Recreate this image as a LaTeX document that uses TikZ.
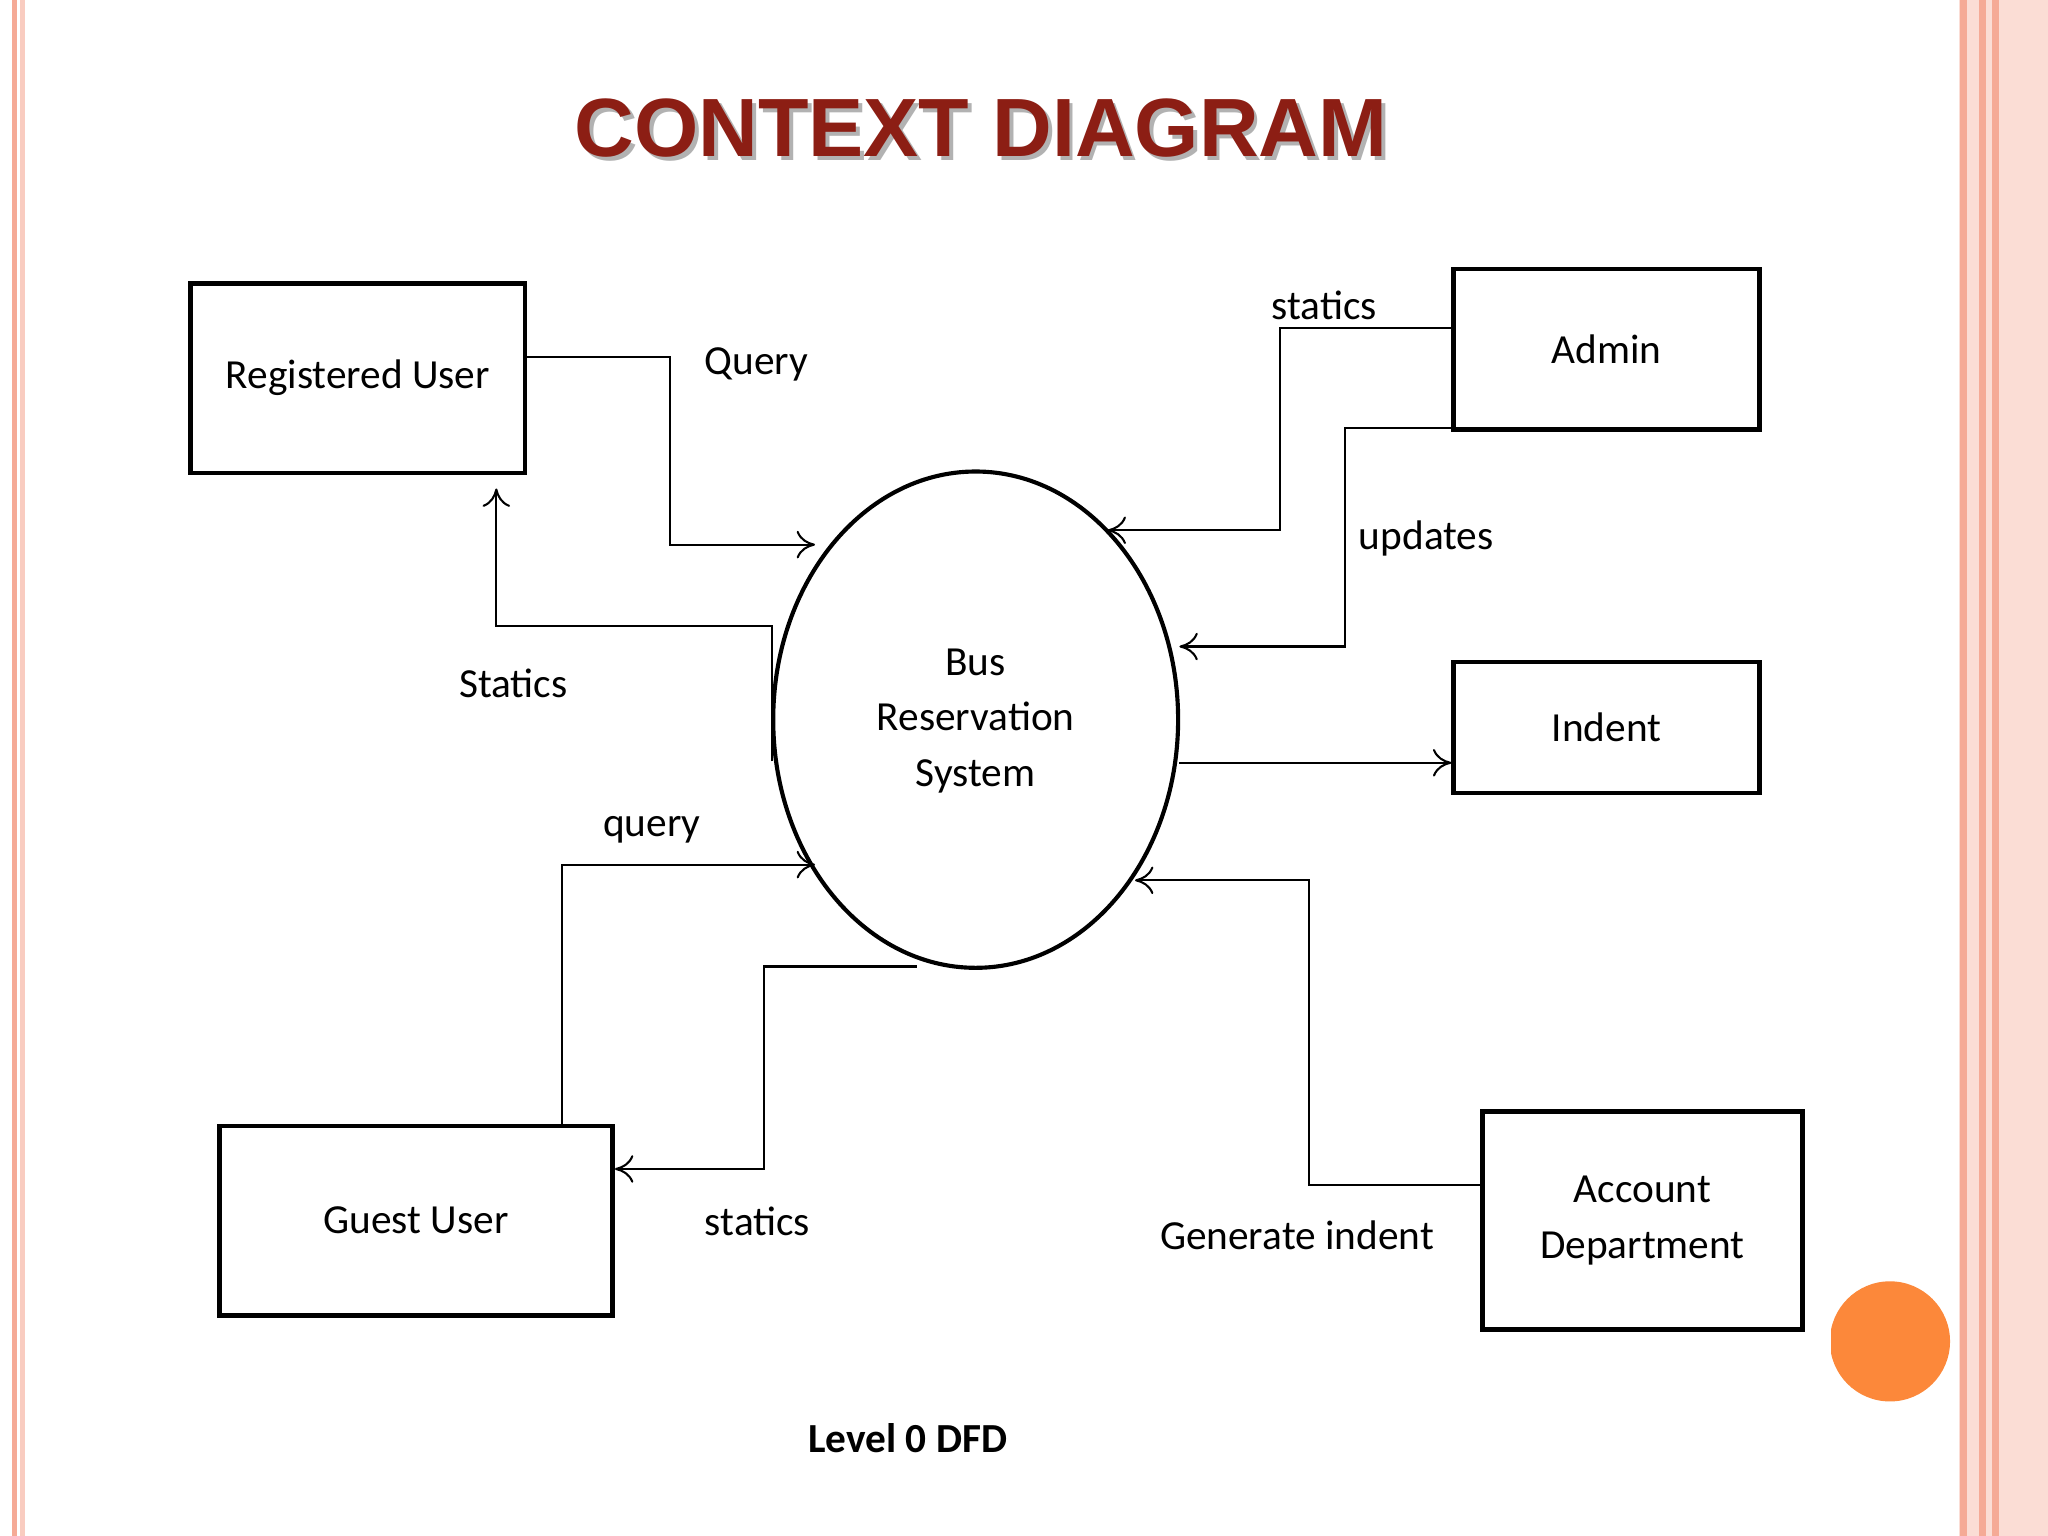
\documentclass[tikz,border=0pt]{standalone}
\usepackage{fontspec}
\setmainfont{Carlito}
\newfontfamily\titlefont{Liberation Sans}
\usetikzlibrary{arrows.meta}
\definecolor{ttl}{RGB}{140,30,20}
\definecolor{pinkline}{RGB}{245,170,150}
\definecolor{orng}{RGB}{252,136,58}
\tikzset{
  box/.style={draw,line width=1pt,inner sep=0pt,font=\fontsize{9}{11}\selectfont,align=center},
  flow/.style={line width=0.45pt,-{To[length=4pt,width=6pt]}},
  lbl/.style={font=\fontsize{9}{11}\selectfont},
}
\begin{document}
\begin{tikzpicture}[x=0.01cm,y=-0.01cm]
\useasboundingbox (0,0) rectangle (1568,1176);
\fill[white] (0,0) rectangle (1568,1176);
% frame
\draw[pinkline,line width=1.2pt] (11,0)--(11,1176);
\draw[pinkline!60,line width=1pt] (17,0)--(17,1176);
\fill[pinkline!40] (1500,0) rectangle (1568,1176);
\draw[pinkline,line width=1.5pt] (1503,0)--(1503,1176);
\draw[pinkline,line width=1.5pt] (1518,0)--(1518,1176);
\draw[pinkline,line width=1.5pt] (1528,0)--(1528,1176);
\begin{scope}
\clip (1402,960) rectangle (1520,1100);
\fill[orng] (1447,1027) circle (46);
\end{scope}
% title
\node[font=\titlefont\bfseries\fontsize{18}{20}\selectfont,text=black!30] at (754,101) {CONTEXT DIAGRAM};
\node[font=\titlefont\bfseries\fontsize{18}{20}\selectfont,text=ttl] (title) at (751,98) {CONTEXT DIAGRAM};
% shapes
\draw[line width=0.9pt] (747,551) ellipse (155 and 190);
\node[lbl,align=center] (brs) at (747,552) {Bus\\[1pt]Reservation\\[1pt]System};
\node[box,minimum width=2.56cm,minimum height=1.45cm] (ru) at (274,289.5) {Registered User};
\node[box,minimum width=2.34cm,minimum height=1.23cm] (ad) at (1230,267.5) {Admin};
\node[box,minimum width=2.34cm,minimum height=1.0cm] (ind) at (1230,557) {Indent};
\node[box,minimum width=3.01cm,minimum height=1.45cm] (gu) at (318.5,934.5) {Guest User};
\node[box,minimum width=2.45cm,minimum height=1.67cm] (ac) at (1257.5,934.5) {Account\\[1pt]Department};
% endpoints
\coordinate (e1) at (624,417);
\coordinate (e2) at (591,583);
\coordinate (e3) at (848,406);
\coordinate (e4) at (903,495);
\coordinate (e5) at (903,584);
\coordinate (e6) at (869,674);
\coordinate (e7) at (624,662);
\coordinate (e8) at (702,740);
% flows
\draw[flow] (ru.east|-0,273) -- (513,273) -- (513,417) -- (e1);
\draw[flow] (e2) -- (591,479) -- (380,479) -- (380,374);
\draw[flow] (ad.west|-0,251) -- (980,251) -- (980,406) -- (e3);
\draw[flow] (ad.west|-0,328) -- (1030,328) -- (1030,495) -- (e4);
\draw[flow] (e5) -- (ind.west|-0,584);
\draw[flow] (ac.west|-0,907) -- (1002,907) -- (1002,674) -- (e6);
\draw[flow] (430,862) -- (430,662) -- (e7);
\draw[flow] (e8) -- (585,740) -- (585,895) -- (gu.east|-0,895);
% labels
\node[lbl] (l1) at (579,279) {Query};
\node[lbl] (l2) at (393,523) {Statics};
\node[lbl] (l3) at (1014,234) {statics};
\node[lbl] (l4) at (1092,412) {updates};
\node[lbl] (l5) at (499,635) {query};
\node[lbl] (l6) at (580,935) {statics};
\node[lbl] (l7) at (993,946) {Generate indent};
\node[font=\bfseries\fontsize{9}{11}\selectfont] (l8) at (695,1101) {Level 0 DFD};
\end{tikzpicture}
\end{document}
